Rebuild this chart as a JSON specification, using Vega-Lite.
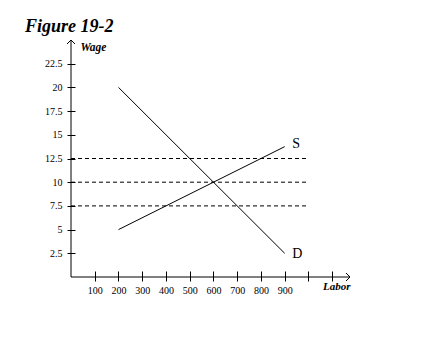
{
  "$schema": "https://vega.github.io/schema/vega-lite/v6.json",
  "autosize": "none",
  "width": 279,
  "height": 237,
  "padding": {"left": 71, "top": 40, "right": 96, "bottom": 70},
  "background": "white",
  "config": {
    "view": {"stroke": null},
    "font": "Liberation Serif",
    "title": {"font": "Liberation Serif"},
    "axis": {"labelFont": "Liberation Serif", "titleFont": "Liberation Serif", "labelColor": "black", "tickColor": "black", "titleColor": "black", "labelOverlap": false}
  },
  "title": {
    "text": "Figure 19-2",
    "anchor": "start",
    "frame": "group",
    "font": "Liberation Serif",
    "fontSize": 18,
    "fontWeight": "bold",
    "fontStyle": "italic",
    "color": "black",
    "dx": -46,
    "offset": 2
  },
  "datasets": {
    "curves": [
      {"curve": "D", "labor": 200, "wage": 20},
      {"curve": "D", "labor": 900, "wage": 2.5},
      {"curve": "S", "labor": 200, "wage": 5},
      {"curve": "S", "labor": 900, "wage": 13.75}
    ],
    "labels": [
      {"label": "S", "labor": 932, "wage": 14},
      {"label": "D", "labor": 932, "wage": 2.4}
    ],
    "wages": [
      {"wage": 12.5},
      {"wage": 10},
      {"wage": 7.5}
    ],
    "one": [{}]
  },
  "layer": [
    {
      "data": {"name": "wages"},
      "mark": {"type": "rule", "strokeDash": [4, 3], "color": "black", "strokeWidth": 1},
      "encoding": {
        "y": {
          "field": "wage", "type": "quantitative",
          "scale": {"domain": [0, 25], "nice": false, "zero": false},
          "axis": {
            "values": [2.5, 5, 7.5, 10, 12.5, 15, 17.5, 20, 22.5],
            "tickCount": 30,
            "format": ".1~f",
            "domain": false,
            "grid": false,
            "offset": -4,
            "tickSize": 8,
            "labelPadding": 5,
            "labelFontSize": 10,
            "labelOverlap": false,
            "title": "Wage",
            "titleAngle": 0,
            "titleAlign": "left",
            "titleBaseline": "alphabetic",
            "titleAnchor": "end",
            "titleX": 5,
            "titleY": 10,
            "titleFontSize": 11.5,
            "titleFontWeight": "bold",
            "titleFontStyle": "italic"
          }
        },
        "x": {"datum": 0, "type": "quantitative",
          "scale": {"domain": [0, 1175], "nice": false, "zero": false},
          "axis": {
            "values": [100, 200, 300, 400, 500, 600, 700, 800, 900, 1000, 1100],
            "tickCount": 30,
            "labelExpr": "datum.value <= 900 ? datum.label : ''",
            "domain": false,
            "grid": false,
            "offset": -6,
            "tickSize": 10,
            "labelPadding": 4,
            "labelFontSize": 10,
            "labelOverlap": false,
            "title": "Labor",
            "titleAnchor": "end",
            "titleAlign": "right",
            "titleBaseline": "alphabetic",
            "titleX": 279,
            "titleY": 18,
            "titleFontSize": 11,
            "titleFontWeight": "bold",
            "titleFontStyle": "italic"
          }
        },
        "x2": {"datum": 990}
      }
    },
    {
      "data": {"name": "one"},
      "mark": {"type": "rule", "color": "black", "strokeWidth": 1},
      "encoding": {
        "x": {"datum": 0, "type": "quantitative"},
        "y": {"datum": 0, "type": "quantitative"},
        "y2": {"datum": 25}
      }
    },
    {
      "data": {"name": "one"},
      "mark": {"type": "rule", "color": "black", "strokeWidth": 1},
      "encoding": {
        "y": {"datum": 0, "type": "quantitative"},
        "x": {"datum": 0, "type": "quantitative"},
        "x2": {"datum": 1175}
      }
    },
    {
      "data": {"name": "one"},
      "mark": {"type": "point", "shape": "M-1,1L0,0L1,1", "filled": false, "stroke": "black", "strokeWidth": 1, "size": 64, "opacity": 1},
      "encoding": {
        "x": {"datum": 0, "type": "quantitative"},
        "y": {"datum": 25, "type": "quantitative"}
      }
    },
    {
      "data": {"name": "one"},
      "mark": {"type": "point", "shape": "M-1,-1L0,0L-1,1", "filled": false, "stroke": "black", "strokeWidth": 1, "size": 64, "opacity": 1},
      "encoding": {
        "x": {"datum": 1175, "type": "quantitative"},
        "y": {"datum": 0, "type": "quantitative"}
      }
    },
    {
      "data": {"name": "curves"},
      "mark": {"type": "line", "color": "black", "strokeWidth": 1},
      "encoding": {
        "x": {"field": "labor", "type": "quantitative"},
        "y": {"field": "wage", "type": "quantitative"},
        "detail": {"field": "curve"}
      }
    },
    {
      "data": {"name": "labels"},
      "mark": {"type": "text", "align": "left", "baseline": "middle", "font": "Liberation Serif", "fontSize": 14, "color": "black"},
      "encoding": {
        "x": {"field": "labor", "type": "quantitative"},
        "y": {"field": "wage", "type": "quantitative"},
        "text": {"field": "label"}
      }
    }
  ]
}
